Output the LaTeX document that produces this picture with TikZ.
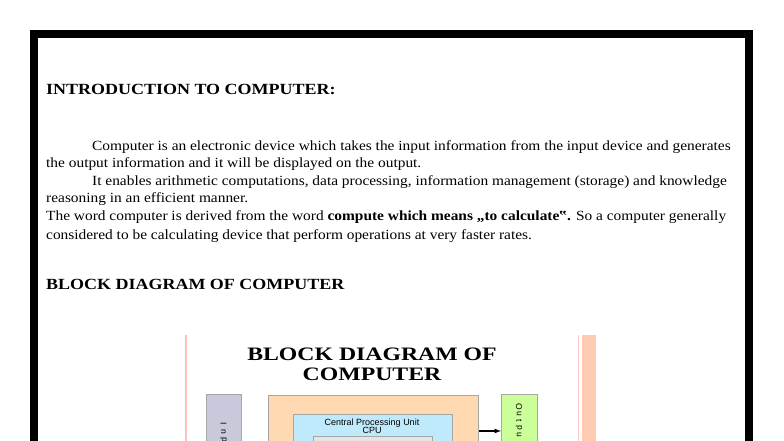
\documentclass[tikz,border=0pt]{standalone}
\usepackage{fontspec}
\setmainfont{Liberation Serif}[FakeStretch=1.1]
\newfontfamily\headf{Liberation Serif}[FakeStretch=1.16]
\newfontfamily\titlef{Liberation Serif}[FakeStretch=1.25]
\newfontfamily\sansf{Liberation Sans}
\begin{document}
\begin{tikzpicture}[x=1pt,y=-1pt,
  body/.style={anchor=base west,inner sep=0pt,font=\fontsize{14}{16}\selectfont},
  head/.style={anchor=base west,inner sep=0pt,font=\headf\fontsize{15.5}{18}\selectfont\bfseries},
  blk/.style={draw=gray!70,line width=0.6pt}]
\useasboundingbox (0,0) rectangle (784,441);
\fill[white] (0,0) rectangle (784,441);
\draw[line width=8pt] (34,460) -- (34,34) -- (749,34) -- (749,460);
\node[head] (h1) at (46,95) {INTRODUCTION TO COMPUTER:};
\node[body] (l1) at (92,150) {Computer is an electronic device which takes the input information from the input device and generates};
\node[body] (l2) at (46,167) {the output information and it will be displayed on the output.};
\node[body] (l3) at (92,185) {It enables arithmetic computations, data processing, information management (storage) and knowledge};
\node[body] (l4) at (46,202) {reasoning in an efficient manner.};
\node[body] (l5) at (46,220) {The word computer is derived from the word \textbf{compute which means „to calculate‟.} So a computer generally};
\node[body] (l6) at (46,239) {considered to be calculating device that perform operations at very faster rates.};
\node[head] (h2) at (46,289) {BLOCK DIAGRAM OF COMPUTER};
% image region
\fill[white] (186,335) rectangle (578,441);
\draw[red!25,line width=1.2pt] (186,335) -- (186,441);
\draw[red!20,line width=1pt] (578,335) -- (578,441);
\fill[red!35!orange!30] (582,335) rectangle (596,441);
\node[font=\titlef\fontsize{19}{20}\selectfont\bfseries,align=center,inner sep=0pt] (t) at (372,364) {BLOCK DIAGRAM OF\\COMPUTER};
\node[blk,fill=blue!20!gray!35,minimum width=35pt,minimum height=60pt,anchor=north west] (in) at (206,394) {};
\node[blk,fill=orange!30,minimum width=210pt,minimum height=60pt,anchor=north west] (mem) at (268,395) {};
\node[blk,fill=cyan!25,minimum width=159pt,minimum height=40pt,anchor=north west] (cpu) at (293,414) {};
\node[font=\sansf\fontsize{9}{8}\selectfont,align=center,inner sep=0pt] (cput) at (372,426) {Central Processing Unit\\[-1pt]CPU};
\node[blk,fill=gray!20,minimum width=119pt,minimum height=20pt,anchor=north west] (alu) at (313,436) {};
\node[blk,fill=green!50!yellow!40,minimum width=36pt,minimum height=60pt,anchor=north west] (out) at (501,394) {};
\draw[-latex,line width=1.2pt] (mem.east |- 0,431) -- (out.west |- 0,431);
\foreach \c/\y in {I/424,n/432,p/440}{\node[font=\sansf\fontsize{8.5}{8}\selectfont,rotate=-90,inner sep=0pt] at (223.5,\y) {\c};}
\foreach \c/\y in {O/407,u/414,t/421,p/428,u/435}{\node[font=\sansf\fontsize{8.5}{8}\selectfont,rotate=-90,inner sep=0pt] at (519,\y) {\c};}
\end{tikzpicture}
\end{document}
